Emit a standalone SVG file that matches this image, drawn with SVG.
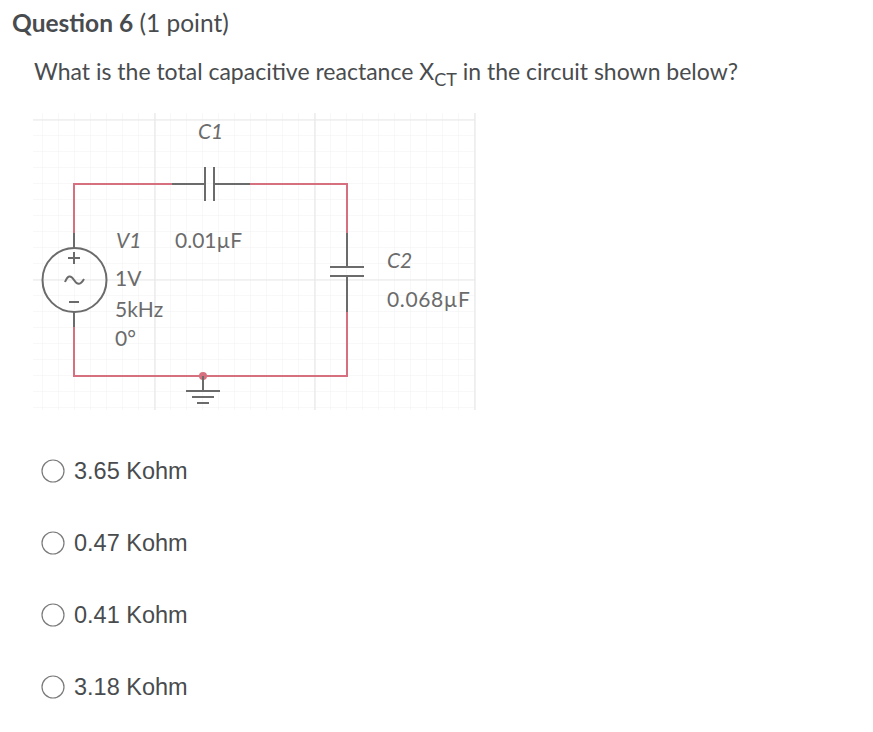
<svg xmlns="http://www.w3.org/2000/svg" width="873" height="732" viewBox="0 0 873 732">
<defs>
<pattern id="g" x="-5" y="24" width="16" height="16" patternUnits="userSpaceOnUse"><path d="M16 0V16H0" fill="none" stroke="#f1f1f1" stroke-width="1"/></pattern>
</defs>
<style>
.t{font-family:Lato,"Open Sans",sans-serif;fill:#494c4e}
.c{font-family:Lato,"Open Sans",sans-serif;fill:#6b6b6b;font-size:21px}
.o{font-family:"Liberation Sans",Arial,sans-serif;fill:#494c4e;font-size:23.5px}
.w{stroke:#d7707e;stroke-width:2;fill:none}
.k{stroke:#6b6b6b;stroke-width:2;fill:none}
.r{fill:#fff;stroke:#7a7a7a;stroke-width:1.2}
</style>
<rect width="873" height="732" fill="#fff"/>
<text class="t" x="12" y="32" font-size="24.5"><tspan font-weight="bold">Question 6</tspan> (1 point)</text>
<text class="t" x="34" y="80" font-size="23">What is the total capacitive reactance X<tspan font-size="18" dy="6">CT</tspan><tspan dy="-6"> in the circuit shown below?</tspan></text>
<g id="grid">
<rect x="33" y="113" width="442" height="297" fill="url(#g)"/>
<path d="M155 113V410M315 113V410M33 280H475M33 120H475M475 113V410" stroke="#e8e8e8" stroke-width="1.2"/>
</g>
<g id="wires">
<path class="w" d="M74 233V184H172M250 184H347V233M347 312V376H74V327"/>
</g>
<g id="C1">
<path class="k" d="M172 184H205M214 184H250M205 167V201M214 167V201"/>
<text class="c" x="198" y="139" font-style="italic">C1</text>
<text class="c" x="175" y="248">0.01µF</text>
</g>
<g id="C2">
<path class="k" d="M347 233V268M347 276V312M330 267H364M330 276H364" stroke-width="2.5"/>
<text class="c" x="387" y="268" font-style="italic">C2</text>
<text class="c" x="387" y="307" textLength="83">0.068µF</text>
</g>
<g id="V1">
<path class="k" d="M74 233V248M74 312V327"/>
<circle cx="74.5" cy="280" r="32" fill="none" stroke="#6b6b6b" stroke-width="2"/>
<path class="k" d="M68 258H80M74 252V264M69 302H79M65 282Q69 272 74 280T84 279"/>
<text class="c" x="116" y="248" font-style="italic">V1</text>
<text class="c" x="115" y="286">1V</text>
<text class="c" x="115" y="317">5kHz</text>
<text class="c" x="115" y="346">0°</text>
</g>
<g id="GND">
<circle cx="203" cy="376" r="4" fill="#d7707e"/>
<path class="k" d="M203 376V391M186 391H220M192 397H214M197 403H209"/>
</g>
<g id="options">
<circle class="r" cx="53" cy="471" r="11"/><text class="o" x="74" y="479">3.65 Kohm</text>
<circle class="r" cx="53" cy="543" r="11"/><text class="o" x="74" y="551">0.47 Kohm</text>
<circle class="r" cx="53" cy="615" r="11"/><text class="o" x="74" y="623">0.41 Kohm</text>
<circle class="r" cx="53" cy="687" r="11"/><text class="o" x="74" y="695">3.18 Kohm</text>
</g>
</svg>
